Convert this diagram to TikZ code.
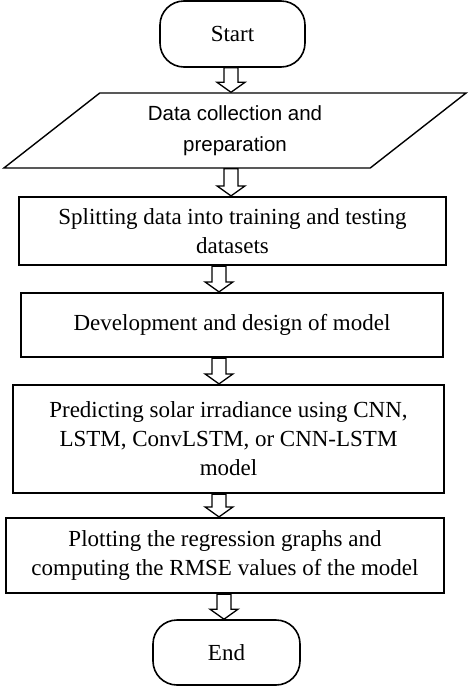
\documentclass[tikz,border=0pt]{standalone}
\usepackage{fontspec}
\setmainfont{Liberation Serif}
\newfontfamily\arialfont{Liberation Sans}
\usetikzlibrary{shapes.geometric,calc}

\newcommand{\blockarrow}[3]{%
\draw[hollow] let \p1=(#2.south), \p2=(#3.north) in
  (#1-7pt,\y1) -- (#1-7pt,\y2+10pt) -- (#1-14pt,\y2+10pt) -- (#1,\y2)
  -- (#1+14pt,\y2+10pt) -- (#1+7pt,\y2+10pt) -- (#1+7pt,\y1) -- cycle;}

\begin{document}
\begin{tikzpicture}[x=1pt,y=-1pt,every node/.style={font=\fontsize{23}{29}\selectfont,align=center}]

\tikzstyle{terminal}=[draw,line width=1.6pt,rounded corners=24pt,minimum width=145pt,minimum height=66pt];
\tikzstyle{process}=[draw,line width=2.2pt,inner sep=2pt];
\tikzstyle{io}=[draw,line width=1.4pt,trapezium,trapezium left angle=41.5,trapezium right angle=138.5,trapezium stretches=true,minimum width=464pt,minimum height=75pt];
\tikzstyle{hollow}=[draw,fill=white,line width=1.3pt];

\useasboundingbox (0,0) rectangle (474,694);

\node[terminal] (start) at (232.5,34) {Start};
\node[io,font=\arialfont\fontsize{20.5}{31}\selectfont] (data) at (235,130.5) {Data collection and\\preparation};
\node[process,minimum width=427pt,minimum height=68pt] (split) at (232.5,231) {Splitting data into training and testing\\datasets};
\node[process,minimum width=422pt,minimum height=64pt] (devel) at (232,325) {Development and design of model};
\node[process,minimum width=431pt,minimum height=108pt] (predict) at (228.5,439) {Predicting solar irradiance using CNN,\\LSTM, ConvLSTM, or CNN-LSTM\\model};
\node[process,minimum width=438pt,minimum height=75pt] (plot) at (225,555.5) {Plotting the regression graphs and\\computing the RMSE values of the model};
\node[terminal,minimum width=147pt,minimum height=65pt] (end) at (226.5,652.5) {End};

\blockarrow{231pt}{start}{data}
\blockarrow{231pt}{data}{split}
\blockarrow{219pt}{split}{devel}
\blockarrow{219pt}{devel}{predict}
\blockarrow{219pt}{predict}{plot}
\blockarrow{224pt}{plot}{end}

\end{tikzpicture}
\end{document}
